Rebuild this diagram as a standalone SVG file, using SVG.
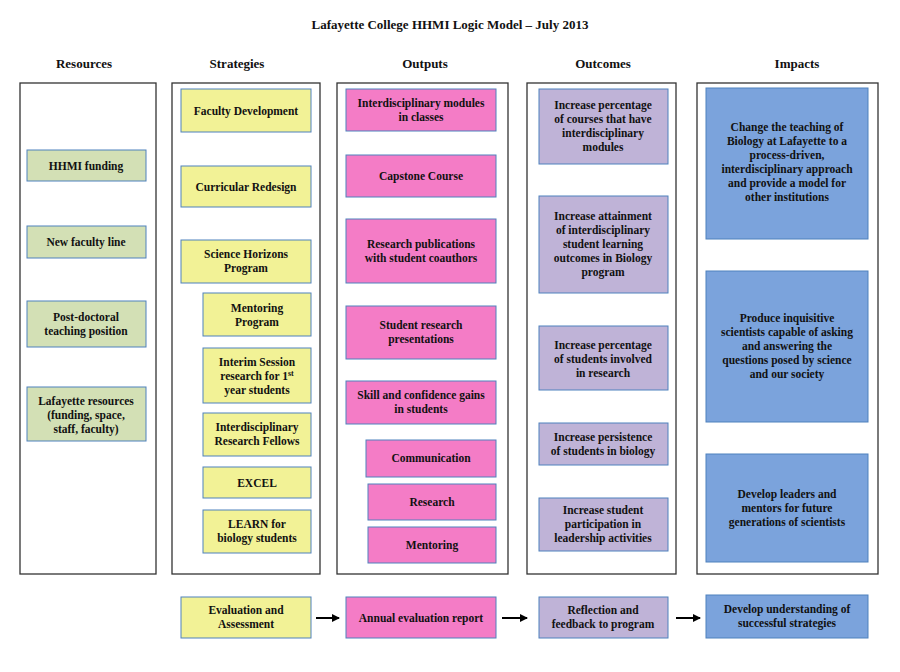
<svg xmlns="http://www.w3.org/2000/svg" width="900" height="672" viewBox="0 0 900 672">
<style>
text{font-family:"Liberation Serif","DejaVu Serif",serif;font-weight:bold;font-size:11.5px;fill:#111;text-anchor:middle}
.h{font-size:13px}
.c{fill:#fff;stroke:#333;stroke-width:1.3}
rect.b{stroke:#4f81bd;stroke-width:1}
.g{fill:#d3e0b5}.y{fill:#f2f296}.p{fill:#f47cc6}.l{fill:#bfb3d7}.u{fill:#7ba3dc}
</style>
<defs><marker id="a" markerWidth="8" markerHeight="8" refX="7" refY="4" orient="auto" markerUnits="userSpaceOnUse"><path d="M0,0L8,4L0,8z" fill="#000"/></marker></defs>
<text x="450" y="29" class="h">Lafayette College HHMI Logic Model – July 2013</text>
<g id="headers"><text x="84" y="68" class="h">Resources</text><text x="237" y="68" class="h">Strategies</text><text x="425" y="68" class="h">Outputs</text><text x="603" y="68" class="h">Outcomes</text><text x="797" y="68" class="h">Impacts</text></g>
<g id="containers"><rect class="c" x="20" y="83" width="136" height="491"/><rect class="c" x="172" y="83" width="148" height="491"/><rect class="c" x="337" y="83" width="171" height="491"/><rect class="c" x="527" y="83" width="149" height="491"/><rect class="c" x="697" y="83" width="181" height="491"/></g>
<g id="r1"><rect class="b g" x="27" y="150" width="119" height="31"/><text x="86" y="170">HHMI funding</text></g>
<g id="r2"><rect class="b g" x="27" y="226" width="119" height="32"/><text x="86" y="246">New faculty line</text></g>
<g id="r3"><rect class="b g" x="27" y="301" width="119" height="46"/><text x="86" y="321">Post-doctoral</text><text x="86" y="335">teaching position</text></g>
<g id="r4"><rect class="b g" x="27" y="387" width="119" height="54"/><text x="86" y="405">Lafayette resources</text><text x="86" y="419">(funding, space,</text><text x="86" y="433">staff, faculty)</text></g>
<g id="s1"><rect class="b y" x="181" y="89" width="130" height="43"/><text x="246" y="115">Faculty Development</text></g>
<g id="s2"><rect class="b y" x="181" y="166" width="130" height="41"/><text x="246" y="191">Curricular Redesign</text></g>
<g id="s3"><rect class="b y" x="181" y="240" width="130" height="43"/><text x="246" y="258">Science Horizons</text><text x="246" y="272">Program</text></g>
<g id="s4"><rect class="b y" x="203" y="293" width="108" height="43"/><text x="257" y="312">Mentoring</text><text x="257" y="326">Program</text></g>
<g id="s5"><rect class="b y" x="203" y="348" width="108" height="55"/><text x="257" y="366">Interim Session</text><text x="257" y="380">research for 1<tspan dy="-4" font-size="8">st</tspan></text><text x="257" y="394">year students</text></g>
<g id="s6"><rect class="b y" x="203" y="413" width="108" height="43"/><text x="257" y="431">Interdisciplinary</text><text x="257" y="445">Research Fellows</text></g>
<g id="s7"><rect class="b y" x="203" y="467" width="108" height="31"/><text x="257" y="487">EXCEL</text></g>
<g id="s8"><rect class="b y" x="203" y="510" width="108" height="43"/><text x="257" y="528">LEARN for</text><text x="257" y="542">biology students</text></g>
<g id="o1"><rect class="b p" x="346" y="89" width="150" height="42"/><text x="421" y="107">Interdisciplinary modules</text><text x="421" y="121">in classes</text></g>
<g id="o2"><rect class="b p" x="346" y="155" width="150" height="42"/><text x="421" y="180">Capstone Course</text></g>
<g id="o3"><rect class="b p" x="346" y="219" width="150" height="64"/><text x="421" y="248">Research publications</text><text x="421" y="262">with student coauthors</text></g>
<g id="o4"><rect class="b p" x="346" y="306" width="150" height="53"/><text x="421" y="329">Student research</text><text x="421" y="343">presentations</text></g>
<g id="o5"><rect class="b p" x="346" y="381" width="150" height="43"/><text x="421" y="399">Skill and confidence gains</text><text x="421" y="413">in students</text></g>
<g id="o6"><rect class="b p" x="366" y="440" width="130" height="37"/><text x="431" y="462">Communication</text></g>
<g id="o7"><rect class="b p" x="368" y="484" width="128" height="36"/><text x="432" y="506">Research</text></g>
<g id="o8"><rect class="b p" x="368" y="527" width="128" height="36"/><text x="432" y="549">Mentoring</text></g>
<g id="c1"><rect class="b l" x="539" y="89" width="129" height="75"/><text x="603" y="109">Increase percentage</text><text x="603" y="123">of courses that have</text><text x="603" y="137">interdisciplinary</text><text x="603" y="151">modules</text></g>
<g id="c2"><rect class="b l" x="539" y="196" width="129" height="97"/><text x="603" y="220">Increase attainment</text><text x="603" y="234">of interdisciplinary</text><text x="603" y="248">student learning</text><text x="603" y="262">outcomes in Biology</text><text x="603" y="276">program</text></g>
<g id="c3"><rect class="b l" x="539" y="326" width="129" height="64"/><text x="603" y="349">Increase percentage</text><text x="603" y="363">of students involved</text><text x="603" y="377">in research</text></g>
<g id="c4"><rect class="b l" x="539" y="423" width="129" height="42"/><text x="603" y="441">Increase persistence</text><text x="603" y="455">of students in biology</text></g>
<g id="c5"><rect class="b l" x="539" y="498" width="129" height="53"/><text x="603" y="514">Increase student</text><text x="603" y="528">participation in</text><text x="603" y="542">leadership activities</text></g>
<g id="i1"><rect class="b u" x="706" y="88" width="162" height="151"/><text x="787" y="131">Change the teaching of</text><text x="787" y="145">Biology at Lafayette to a</text><text x="787" y="159">process-driven,</text><text x="787" y="173">interdisciplinary approach</text><text x="787" y="187">and provide a model for</text><text x="787" y="201">other institutions</text></g>
<g id="i2"><rect class="b u" x="706" y="271" width="162" height="151"/><text x="787" y="322">Produce inquisitive</text><text x="787" y="336">scientists capable of asking</text><text x="787" y="350">and answering the</text><text x="787" y="364">questions posed by science</text><text x="787" y="378">and our society</text></g>
<g id="i3"><rect class="b u" x="706" y="454" width="162" height="108"/><text x="787" y="498">Develop leaders and</text><text x="787" y="512">mentors for future</text><text x="787" y="526">generations of scientists</text></g>
<g id="b1"><rect class="b y" x="181" y="597" width="130" height="41"/><text x="246" y="614">Evaluation and</text><text x="246" y="628">Assessment</text></g>
<g id="b2"><rect class="b p" x="346" y="597" width="150" height="41"/><text x="421" y="622">Annual evaluation report</text></g>
<g id="b3"><rect class="b l" x="539" y="597" width="129" height="41"/><text x="603" y="614">Reflection and</text><text x="603" y="628">feedback to program</text></g>
<g id="b4"><rect class="b u" x="706" y="595" width="162" height="43"/><text x="787" y="613">Develop understanding of</text><text x="787" y="627">successful strategies</text></g>
<g id="connectors" stroke="#000" stroke-width="2" marker-end="url(#a)"><line x1="316" y1="618" x2="339" y2="618"/><line x1="502" y1="618" x2="527" y2="618"/><line x1="676" y1="618" x2="700" y2="618"/></g>
</svg>
